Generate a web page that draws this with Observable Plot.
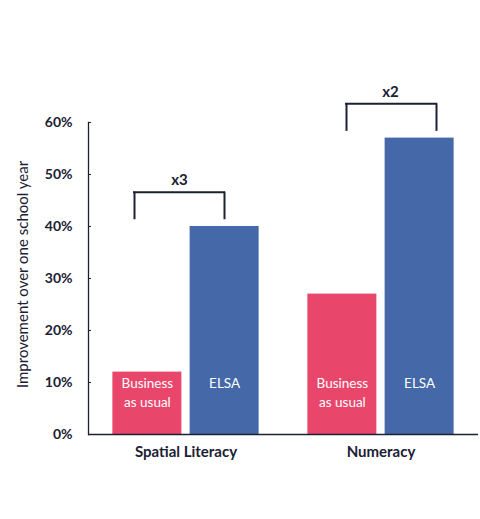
<!DOCTYPE html>
<html>
<head>
<meta charset="utf-8">
<script src="https://cdn.jsdelivr.net/npm/d3@7"></script>
<script src="https://cdn.jsdelivr.net/npm/@observablehq/plot@0.6"></script>
<style>
  html, body { margin: 0; padding: 0; background: #fff; }
</style>
</head>
<body>
<div id="chart"></div>
<script>
// ---- data ----
const groups = ["Spatial Literacy", "Numeracy"];
const conditions = ["Business as usual", "ELSA"];
const barLabels = ["Business\nas usual", "ELSA"];
const businessAsUsual = [0.12, 0.27];
const elsa = [0.40, 0.57];
const multipliers = ["x3", "x2"];
const yTicks = [0, 0.1, 0.2, 0.3, 0.4, 0.5, 0.6];
const yTitle = "Improvement over one school year";

// ---- tables built from the arrays ----
const bars = groups.flatMap((g, i) => [
  {group: g, condition: conditions[0], label: barLabels[0], value: businessAsUsual[i]},
  {group: g, condition: conditions[1], label: barLabels[1], value: elsa[i]}
]);
const bau = bars.filter(d => d.condition === conditions[0]);
const els = bars.filter(d => d.condition === conditions[1]);

// bracket sits just above the ELSA bar
const legGap = 0.013, bracketRise = 0.066;
const brackets = groups.map((g, i) => ({
  group: g, low: elsa[i] + legGap, high: elsa[i] + bracketRise, label: multipliers[i]
}));

// ---- styles ----
const pink = "#E9466C", blue = "#4468A8", ink = "#1b2033";
const font = "Lato, 'Open Sans', sans-serif";
const split = 77.25;          // inset that splits each group band into two bars
const barOffset = 38.6;        // offset of each bar centre from the group centre
// hand-drawn bracket placement per group: [leftLeg dx, rightLeg dx, tick insetLeft, tick insetRight, label dx]
const bracketStyle = [
  [-51.5, 38.5, 21.6, 34.6, -6.5],
  [-34.5, 55.5, 38.6, 17.6, 9.5]
];

const bracketMarks = brackets.flatMap((b, i) => {
  const [l, r, il, ir, ldx] = bracketStyle[i];
  return [
    Plot.tickY([b], {x: "group", y: "high", insetLeft: il, insetRight: ir, stroke: ink, strokeWidth: 2, strokeLinecap: "square"}),
    Plot.ruleX([b], {x: "group", y1: "low", y2: "high", dx: l, stroke: ink, strokeWidth: 2}),
    Plot.ruleX([b], {x: "group", y1: "low", y2: "high", dx: r, stroke: ink, strokeWidth: 2}),
    Plot.text([b], {x: "group", y: "high", text: "label", dy: -12, dx: ldx, fontWeight: "bold", fontSize: 15, fill: ink})
  ];
});

const chart = Plot.plot({
  width: 480,
  height: 519,
  marginLeft: 88,
  marginRight: 2,
  marginTop: 122,
  marginBottom: 85,
  style: {fontFamily: font, fontSize: "14px", color: ink, background: "#fff"},
  x: {domain: groups, paddingInner: 0.25, paddingOuter: 0.125, round: false},
  y: {domain: [0, 0.6]},
  marks: [
    Plot.barY(bau, {x: "group", y: "value", fill: pink, insetRight: split}),
    Plot.barY(els, {x: "group", y: "value", fill: blue, insetLeft: split}),
    Plot.text(bau, {x: "group", text: "label", frameAnchor: "bottom", lineAnchor: "top", dy: -59, dx: -barOffset, fill: "white", fontSize: 13.5, lineHeight: 1.35}),
    Plot.text(els, {x: "group", text: "label", frameAnchor: "bottom", lineAnchor: "top", dy: -59, dx: barOffset, fill: "white", fontSize: 13.5, lineHeight: 1.35}),
    Plot.frame({anchor: "left", stroke: ink, strokeWidth: 1.3}),
    Plot.ruleY([0], {stroke: ink, strokeWidth: 1.3}),
    Plot.axisY({ticks: yTicks, tickFormat: d3.format(".0%"), tickSize: -3, tickPadding: 19, label: null, fontWeight: "bold", fontSize: 14, stroke: ink, fill: ink}),
    Plot.axisX({tickSize: 0, tickPadding: 12, label: null, fontWeight: "bold", fontSize: 15, fill: ink}),
    Plot.text([yTitle], {text: d => d, frameAnchor: "left", textAnchor: "middle", rotate: -90, dx: -65, dy: -4, fontSize: 15, fill: ink}),
    ...bracketMarks
  ]
});
document.getElementById("chart").append(chart);
</script>
</body>
</html>
